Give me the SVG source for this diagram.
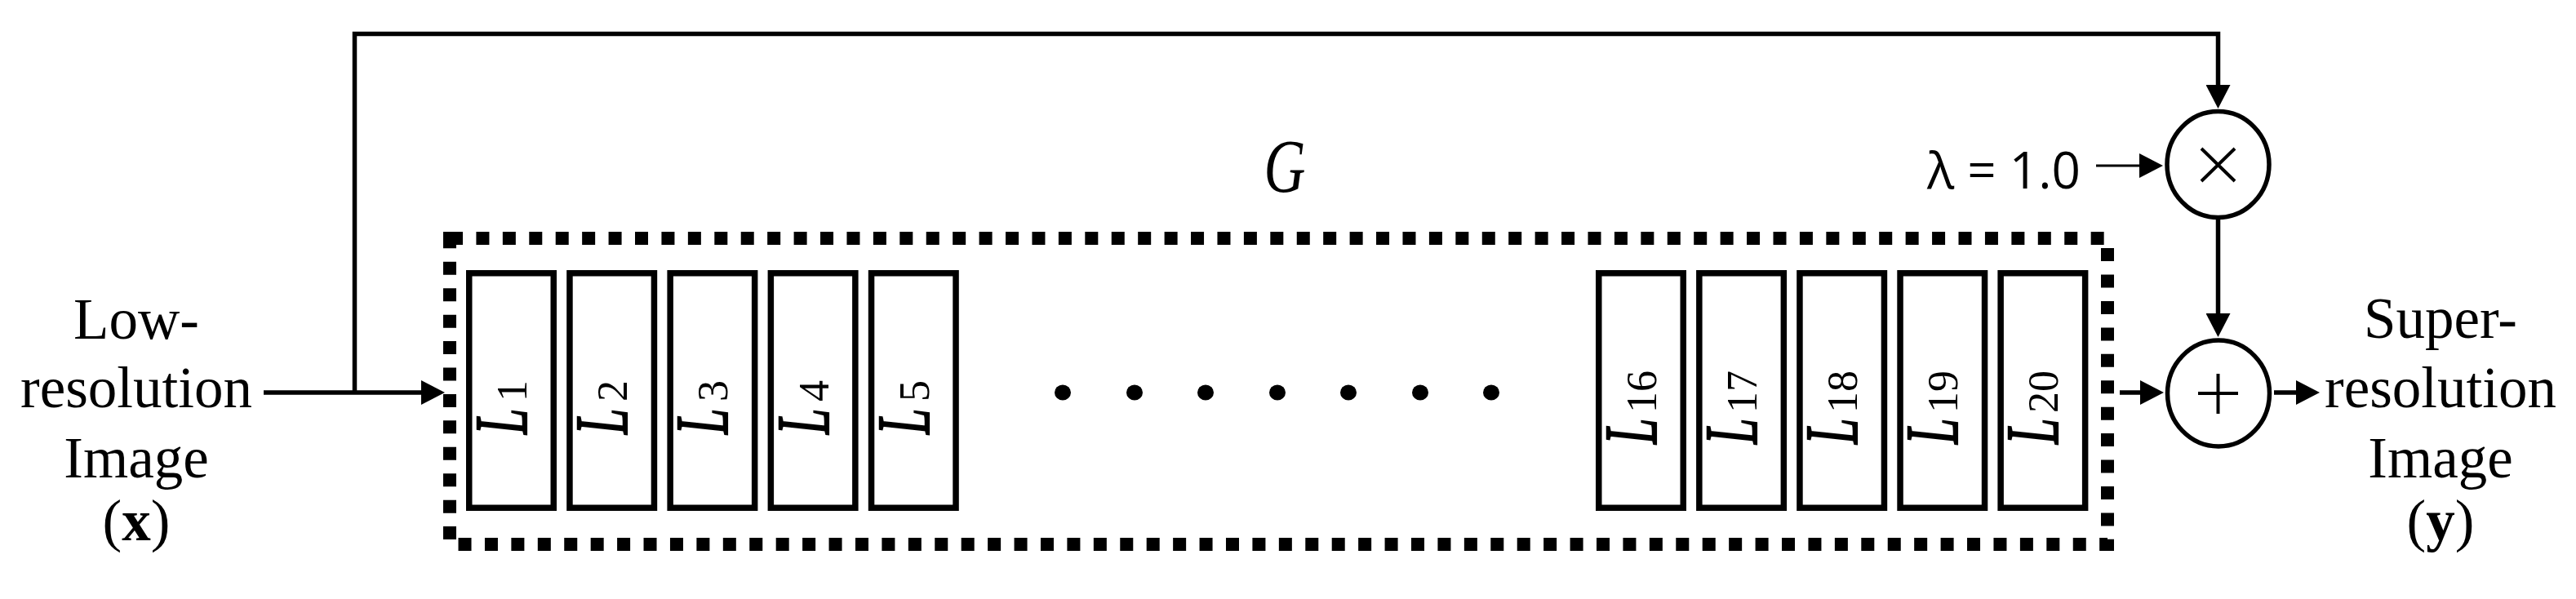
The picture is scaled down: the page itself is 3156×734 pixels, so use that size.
<svg xmlns="http://www.w3.org/2000/svg" width="3156" height="734" viewBox="0 0 3156 734">
<style>
.serif{font-family:"Liberation Serif","Times New Roman",serif;fill:#000}
.lbl{font-size:71px;text-anchor:middle}
.lm{font-family:"Liberation Serif","Times New Roman",serif;font-style:italic;font-size:90px;fill:#000;stroke:#000;stroke-width:2.5}
.sub{font-family:"Liberation Serif","Times New Roman",serif;font-size:52px;fill:#000}
.blk{fill:#fff;stroke:#000;stroke-width:7.5}
.op{fill:#fff;stroke:#000;stroke-width:5.5}
.glyph{stroke:#000;stroke-width:4;fill:none}
.wire{fill:none;stroke:#000;stroke-width:5.5}
.thin{fill:none;stroke:#000;stroke-width:3}
.dot{fill:#000}
</style>
<defs>
<marker id="ah" markerUnits="userSpaceOnUse" markerWidth="30" markerHeight="30" viewBox="0 0 29 30" refX="19" refY="15" orient="auto">
<path d="M0,0 L29,15 L0,30 z" fill="#000"/>
</marker>
</defs>
<rect width="3156" height="734" fill="#fff"/>

<g id="input-label">
<text class="serif lbl" x="167" y="415">Low-</text>
<text class="serif lbl" x="167" y="499">resolution</text>
<text class="serif lbl" x="167" y="585">Image</text>
<text class="serif lbl" x="167" y="662">(<tspan font-weight="bold">x</tspan>)</text>
</g>

<g id="output-label">
<text class="serif lbl" x="2990" y="414">Super-</text>
<text class="serif lbl" x="2990" y="499">resolution</text>
<text class="serif lbl" x="2990" y="585">Image</text>
<text class="serif lbl" x="2990" y="662">(<tspan font-weight="bold">y</tspan>)</text>
</g>

<g id="generator">
<path d="M551,292 H2582 V667 H551 Z" fill="none" stroke="#000" stroke-width="16" stroke-dasharray="16 16.43"/>
<text class="serif" font-style="italic" font-size="94" text-anchor="middle" transform="translate(1574,235) scale(0.75,1)">G</text>
</g>

<g id="L1"><rect class="blk" x="574.75" y="334.75" width="103.5" height="287.5"/><g transform="translate(645,532) rotate(-90)"><text class="lm" transform="scale(0.62,1)">L</text><text class="sub" x="40">1</text></g></g>
<g id="L2"><rect class="blk" x="697.95" y="334.75" width="103.5" height="287.5"/><g transform="translate(768.2,532) rotate(-90)"><text class="lm" transform="scale(0.62,1)">L</text><text class="sub" x="40">2</text></g></g>
<g id="L3"><rect class="blk" x="821.15" y="334.75" width="103.5" height="287.5"/><g transform="translate(891.4,532) rotate(-90)"><text class="lm" transform="scale(0.62,1)">L</text><text class="sub" x="40">3</text></g></g>
<g id="L4"><rect class="blk" x="944.35" y="334.75" width="103.5" height="287.5"/><g transform="translate(1014.6,532) rotate(-90)"><text class="lm" transform="scale(0.62,1)">L</text><text class="sub" x="40">4</text></g></g>
<g id="L5"><rect class="blk" x="1067.55" y="334.75" width="103.5" height="287.5"/><g transform="translate(1137.8,532) rotate(-90)"><text class="lm" transform="scale(0.62,1)">L</text><text class="sub" x="40">5</text></g></g>

<g id="ellipsis">
<ellipse class="dot" cx="1302" cy="481" rx="10" ry="9.5"/>
<ellipse class="dot" cx="1390" cy="481" rx="10" ry="9.5"/>
<ellipse class="dot" cx="1477" cy="481" rx="10" ry="9.5"/>
<ellipse class="dot" cx="1565" cy="481" rx="10" ry="9.5"/>
<ellipse class="dot" cx="1652" cy="481" rx="10" ry="9.5"/>
<ellipse class="dot" cx="1740" cy="481" rx="10" ry="9.5"/>
<ellipse class="dot" cx="1827" cy="481" rx="10" ry="9.5"/>
</g>

<g id="L16"><rect class="blk" x="1958.75" y="334.75" width="103.5" height="287.5"/><g transform="translate(2029,544) rotate(-90)"><text class="lm" transform="scale(0.62,1)">L</text><text class="sub" x="38">16</text></g></g>
<g id="L17"><rect class="blk" x="2081.85" y="334.75" width="103.5" height="287.5"/><g transform="translate(2152.1,544) rotate(-90)"><text class="lm" transform="scale(0.62,1)">L</text><text class="sub" x="38">17</text></g></g>
<g id="L18"><rect class="blk" x="2204.95" y="334.75" width="103.5" height="287.5"/><g transform="translate(2275.2,544) rotate(-90)"><text class="lm" transform="scale(0.62,1)">L</text><text class="sub" x="38">18</text></g></g>
<g id="L19"><rect class="blk" x="2328.05" y="334.75" width="103.5" height="287.5"/><g transform="translate(2398.3,544) rotate(-90)"><text class="lm" transform="scale(0.62,1)">L</text><text class="sub" x="38">19</text></g></g>
<g id="L20"><rect class="blk" x="2451.15" y="334.75" width="103.5" height="287.5"/><g transform="translate(2521.4,544) rotate(-90)"><text class="lm" transform="scale(0.62,1)">L</text><text class="sub" x="38">20</text></g></g>

<g id="lambda">
<text x="2549" y="231" font-family="'Open Sans','Noto Sans',sans-serif" font-size="62" text-anchor="end" fill="#000">λ = 1.0</text>
</g>

<g id="mul">
<ellipse class="op" cx="2717.5" cy="201.5" rx="62.5" ry="65"/>
<path class="glyph" d="M2697,182 L2738,222 M2697,222 L2738,182" stroke-width="3.5"/>
</g>

<g id="add">
<ellipse class="op" cx="2718" cy="482" rx="62.5" ry="65"/>
<path class="glyph" d="M2693,482 H2742 M2717.5,458 V507"/>
</g>

<g id="connectors">
<path class="wire" d="M323,481 H535" marker-end="url(#ah)"/>
<path class="wire" d="M434.5,481 V41.5 H2717.5 V123" marker-end="url(#ah)"/>
<path class="thin" d="M2568,203 H2640" marker-end="url(#ah)"/>
<path class="wire" d="M2717.5,269 V403" marker-end="url(#ah)"/>
<path class="wire" d="M2597,481 H2641" marker-end="url(#ah)"/>
<path class="wire" d="M2786,481 H2832" marker-end="url(#ah)"/>
</g>
</svg>
